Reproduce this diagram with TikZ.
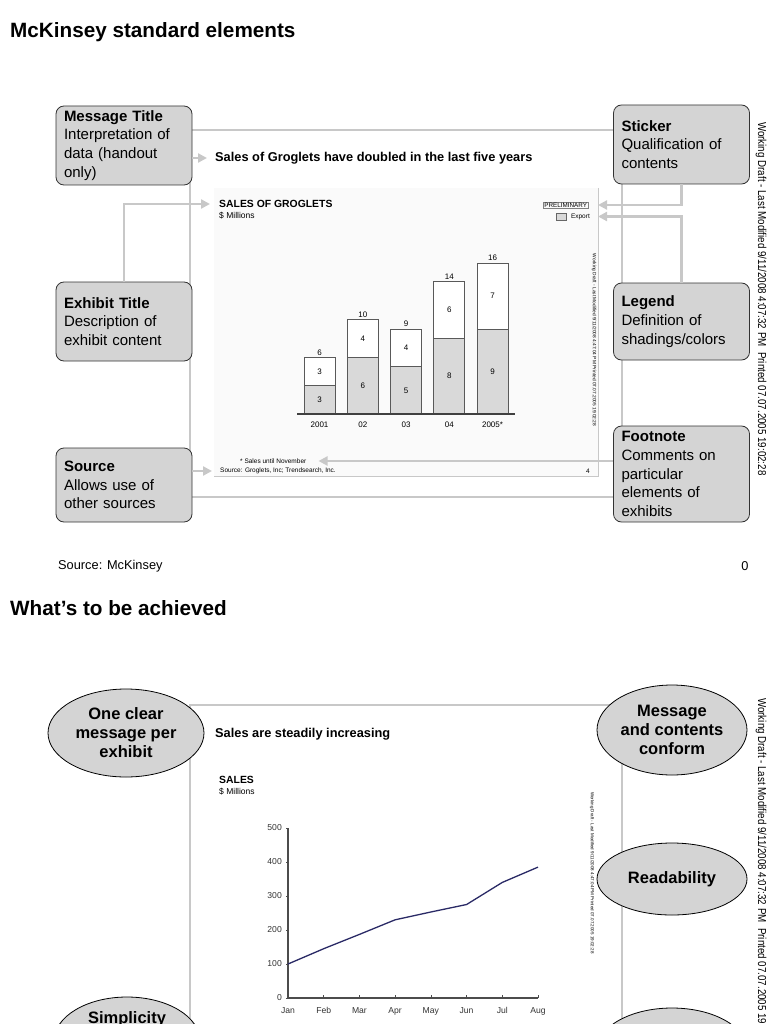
\documentclass[tikz,border=0pt]{standalone}
\usepackage{fontspec}
\usepackage{graphicx}
\setmainfont{Liberation Sans}
\usetikzlibrary{arrows.meta,shapes.geometric,calc}
\newcommand{\fsz}[2]{\fontsize{#1}{#2}\selectfont}
\definecolor{boxfill}{HTML}{D4D4D4}
\definecolor{lnc}{HTML}{C8C8C8}
\definecolor{navy}{HTML}{2A2A66}
\tikzset{
  frameline/.style={draw=lnc, line width=2pt},
  arr/.style={draw=lnc, line width=2.6pt, -{Triangle[length=9pt,width=9pt]}},
  box/.style={draw=black!80, fill=boxfill, rounded corners=8pt, line width=0.8pt,
    minimum width=136pt, minimum height=79pt, text width=120pt, align=left,
    inner xsep=8pt, inner ysep=2pt, font=\fsz{15}{18.8}},
  ell/.style={ellipse, draw=black, line width=0.8pt, fill=boxfill, align=center,
    inner sep=0pt, font=\bfseries\fsz{16.5}{19}},
  txt/.style={inner sep=0pt, anchor=west},
  barline/.style={draw=black!65, line width=0.8pt},
  barlab/.style={inner sep=0pt, font=\fsz{8}{9}},
  axlab/.style={inner sep=0pt, font=\fsz{8.6}{10}, text=black!80},
}
\begin{document}
\begin{tikzpicture}[x=1pt,y=-1pt]
\useasboundingbox (0,0) rectangle (768,1024);
\clip (0,0) rectangle (768,1024);

% ---------- top panel ----------
\node[txt, font=\bfseries\fsz{20.7}{23}] (h1) at (10,32) {McKinsey standard elements};

\draw[frameline] (190,130) rectangle (622,497);
\fill[black!2] (214,188) rectangle (598,476);
\draw[lnc, line width=0.8pt] (598,188) -- (598,476) -- (214,476);

\node[box] (msg) at (124,145.5) {\textbf{Message Title}\\Interpretation of\\data (handout\\only)};
\node[box] (exh) at (124,321.5) {\textbf{Exhibit Title}\\Description of\\exhibit content};
\node[box, minimum height=74pt] (src) at (124,485) {\textbf{Source}\\Allows use of\\other sources};
\node[box] (stk) at (681.5,144.5) {\textbf{Sticker}\\Qualification of\\contents};
\node[box, minimum height=77pt] (leg) at (681.5,321.5) {\textbf{Legend}\\Definition of\\shadings/colors};
\node[box, minimum height=96pt, inner ysep=1pt] (fnt) at (681.5,474) {\textbf{Footnote}\\Comments on\\particular\\elements of\\exhibits};

\node[txt, font=\bfseries\fsz{12.8}{14}] (ttl) at (215,158) {Sales of Groglets have doubled in the last five years};
\node[txt, font=\bfseries\fsz{10.4}{12}] (stitle) at (219,204) {SALES OF GROGLETS};
\node[txt, font=\fsz{8.5}{10}] (smil) at (219,216) {\$ Millions};
\node[anchor=east, draw=black!50, line width=0.4pt, inner sep=0.8pt, font=\fsz{6.3}{7}] (prelim) at (588,205) {PRELIMINARY};
\node[anchor=east, inner sep=0pt, font=\fsz{6.5}{7}] (export) at (590,216.5) {Export};
\node[anchor=east, draw=black!60, fill=black!15, line width=0.4pt, minimum width=10pt, minimum height=6.5pt, inner sep=0pt] (swatch) at ([xshift=-4pt]export.west) {};

\node[rotate=-90, inner sep=0pt, font=\fsz{4.8}{5}] (wd1) at (594,340) {Working Draft - Last Modified 9/11/2008 4:47:04 PM Printed 07.07.2005 19:02:28};

\foreach \i/\yr/\tot/\ex in {0/2001/6/3, 1/02/10/6, 2/03/9/5, 3/04/14/8, 4/2005*/16/9}{
  \pgfmathsetmacro{\xl}{304+43.25*\i}
  \pgfmathsetmacro{\xr}{\xl+31}
  \pgfmathsetmacro{\xc}{\xl+15.5}
  \pgfmathsetmacro{\ye}{414-9.44*\ex}
  \pgfmathsetmacro{\yt}{414-9.44*\tot}
  \pgfmathsetmacro{\ym}{(414+\ye)/2}
  \pgfmathsetmacro{\yn}{(\ye+\yt)/2}
  \pgfmathsetmacro{\ya}{\yt-2}
  \pgfmathtruncatemacro{\oth}{\tot-\ex}
  \draw[barline, fill=black!15] (\xl,414) rectangle (\xr,\ye);
  \draw[barline, fill=white] (\xl,\ye) rectangle (\xr,\yt);
  \node[barlab] at (\xc,\ym) {\ex};
  \node[barlab] at (\xc,\yn) {\oth};
  \node[barlab, anchor=south] at (\xc,\ya) {\tot};
  \node[barlab, anchor=base] at (\xc,427.5) {\yr};
}
\draw[black!75, line width=1.6pt] (297,414) -- (515,414);

\node[txt, font=\fsz{6.5}{7}] (fnote) at (240,461) {* Sales until November};
\node[txt, font=\fsz{6.5}{7}] (srcnote) at (220,471) {Source: Groglets, Inc; Trendsearch, Inc.};
\node[inner sep=0pt, font=\fsz{6.5}{7}] (pg) at (588,471) {4};

\draw[arr] (msg.east |- ttl.west) -- ([xshift=-8pt]ttl.west);
\draw[arr] (exh.north) |- ([xshift=-9pt]stitle.west);
\draw[arr] (src.east |- srcnote.west) -- ([xshift=-8pt]srcnote.west);
\draw[arr] (stk.south) |- ([xshift=10pt]prelim.east);
\draw[arr] (leg.north) |- ([xshift=8pt]export.east);
\draw[arr] (fnt.west |- fnote.east) -- ([xshift=12pt]fnote.east);

\node[txt, font=\fsz{12.8}{14}] (srcmck) at (58,566) {Source: McKinsey};
\node[inner sep=0pt, font=\fsz{12.8}{14}] (pg0) at (745,566) {0};

\node[rotate=-90, anchor=west, inner sep=0pt, font=\fsz{11.5}{13}] (m1) at (761,122) {\scalebox{0.85}[1]{Working Draft - Last Modified 9/11/2008 4:07:32 PM\ \ Printed 07.07.2005 19:02:28}};

% ---------- bottom panel ----------
\node[txt, font=\bfseries\fsz{20.7}{23}] (h2) at (10,608) {What’s to be achieved};

\draw[frameline] (190,1100) -- (190,705) -- (622,705) -- (622,1100);

\node[ell, minimum width=156pt, minimum height=88pt] (e1) at (126,733) {One clear\\message per\\exhibit};
\node[ell, minimum width=150pt, minimum height=90pt] (e2) at (672,730) {Message\\and contents\\conform};
\node[ell, minimum width=150pt, minimum height=72pt] (e3) at (672,879) {Readability};
\node[ell, minimum width=146pt, minimum height=88pt] (e4) at (127,1041) {};
\node[inner sep=0pt, font=\bfseries\fsz{16.5}{19}] (e4t) at (127,1019) {Simplicity};
\node[ell, minimum width=150pt, minimum height=84pt] (e5) at (672,1050) {};
\node[inner sep=0pt, font=\bfseries\fsz{16.5}{19}] (e5t) at (670,1031) {Illustrated};

\node[txt, font=\bfseries\fsz{12.8}{14}] (t2) at (215,734) {Sales are steadily increasing};
\node[txt, font=\bfseries\fsz{10.4}{12}] (s2) at (219,780) {SALES};
\node[txt, font=\fsz{8.5}{10}] (s2m) at (219,792) {\$ Millions};

\foreach \v in {0,100,200,300,400,500}{
  \pgfmathsetmacro{\yy}{998-0.34*\v}
  \draw[black!70, line width=0.6pt] (286,\yy) -- (288,\yy);
  \node[axlab, anchor=east] at (282,\yy) {\v};
}
\foreach \m [count=\k from 0] in {Jan,Feb,Mar,Apr,May,Jun,Jul,Aug}{
  \pgfmathsetmacro{\xx}{288+35.71*\k}
  \draw[black!70, line width=0.6pt] (\xx,998) -- (\xx,995);
  \node[axlab, anchor=base] at (\xx,1013) {\m};
}
\draw[black!70, line width=1.3pt] (288,828) -- (288,998) -- (538,998);
\draw[navy, line width=1.3pt, line join=round]
  (288,964) -- (323.7,948.7) -- (359.4,934.4) -- (395.1,919.8) -- (430.8,912) -- (466.6,904.5) -- (502.3,882.4) -- (538,867.1);

\node[rotate=-90, inner sep=0pt, font=\fsz{4.5}{5}] (wd2) at (592,873) {Working Draft - Last Modified 9/11/2008 4:47:04 PM Printed 07.07.2005 19:02:28};

\node[rotate=-90, anchor=west, inner sep=0pt, font=\fsz{11.5}{13}] (m2) at (761,698) {\scalebox{0.85}[1]{Working Draft - Last Modified 9/11/2008 4:07:32 PM\ \ Printed 07.07.2005 19:02:28}};
\end{tikzpicture}
\end{document}
